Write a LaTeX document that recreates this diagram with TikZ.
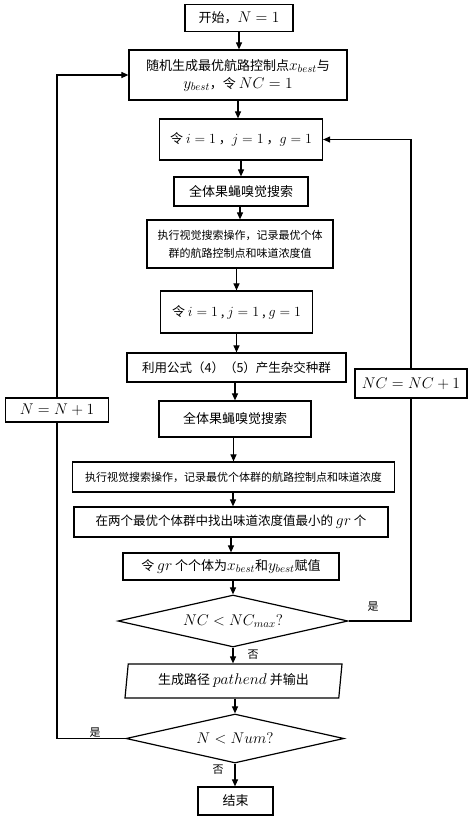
\RequirePackage{fix-cm}
\documentclass[tikz,border=0pt]{standalone}
\usepackage{fontspec}
\newfontfamily\cjk{Noto Sans CJK SC}
\newcommand\mth[1]{{\fontsize{15.5}{18}\selectfont$#1$}}
\newcommand\mths[1]{{\fontsize{14}{18}\selectfont$#1$}}
\usetikzlibrary{shapes.geometric,arrows.meta}
\begin{document}
\begin{tikzpicture}[x=1pt,y=-1pt,
  box/.style={draw, line width=1.2pt, inner sep=0pt, align=center, font=\cjk\fontsize{13}{18}\selectfont},
  dia/.style={draw, diamond, aspect=4.4, line width=1.2pt, inner sep=0pt, font=\cjk\fontsize{13}{18}\selectfont},
  para/.style={draw, trapezium, trapezium left angle=77, trapezium right angle=103, trapezium stretches body, line width=1.2pt, inner sep=0pt, font=\cjk\fontsize{13}{18}\selectfont},
  lbl/.style={font=\cjk\fontsize{11}{13}\selectfont, inner sep=0pt},
  conn/.style={line width=1.1pt},
  arr/.style={line width=1.1pt, -{Triangle[length=7pt,width=6pt]}}]
\useasboundingbox (0,0) rectangle (474,820);
\node[box, minimum width=108pt, minimum height=27pt] (b1) at (239,18) {开始，\mth{N=1}};
\node[box, minimum width=218pt, minimum height=50pt] (b2) at (238,75) {随机生成最优航路控制点\mth{x_{best}}与\\\mth{y_{best}}，令 \mth{NC=1}};
\node[box, minimum width=163pt, minimum height=41pt] (b3) at (241,139.5) {令 \mths{i=1} ，\mths{j=1} ，\mths{g=1}};
\node[box, minimum width=134pt, minimum height=29pt] (b4) at (241,191.5) {全体果蝇嗅觉搜索};
\node[box, minimum width=186pt, minimum height=48pt, font=\cjk\fontsize{11}{18}\selectfont] (b5) at (240,244) {执行视觉搜索操作，记录最优个体\\群的航路控制点和味道浓度值};
\node[box, minimum width=152pt, minimum height=42pt] (b6) at (236.5,312) {令 \mths{i=1} , \mths{j=1} , \mths{g=1}};
\node[box, minimum width=219pt, minimum height=29pt, font=\cjk\fontsize{12.5}{16}\selectfont] (b7) at (236.5,367.5) {利用公式（4）（5）产生杂交种群};
\node[box, minimum width=152pt, minimum height=36pt] (b8) at (235,419) {全体果蝇嗅觉搜索};
\node[box, minimum width=322pt, minimum height=30pt, font=\cjk\fontsize{11}{14}\selectfont] (b9) at (233.5,477) {执行视觉搜索操作，记录最优个体群的航路控制点和味道浓度};
\node[box, minimum width=314pt, minimum height=30pt, font=\cjk\fontsize{12.5}{16}\selectfont] (b10) at (231,522) {在两个最优个体群中找出味道浓度值最小的 \mth{gr} 个};
\node[box, minimum width=216pt, minimum height=27pt] (b11) at (231,566.5) {令 \mth{gr} 个个体为\mth{x_{best}}和\mth{y_{best}}赋值};
\node[dia, minimum width=230pt, minimum height=52pt] (d1) at (233,621) {\mth{NC<NC_{max}?}};
\node[para, minimum width=217pt, minimum height=34pt] (out) at (233.5,681) {生成路径 \mth{pathend} 并输出};
\node[dia, minimum width=218pt, minimum height=49pt] (d2) at (235,738.5) {\mth{N<Num?}};
\node[box, minimum width=75pt, minimum height=28pt] (end) at (235.5,801) {结束};
\node[box, minimum width=103pt, minimum height=24pt] (nn) at (57,410) {\mth{N=N+1}};
\node[box, minimum width=112pt, minimum height=29pt] (nc) at (411,383.5) {\mth{NC=NC+1}};
\node[lbl] (yes1) at (373,607) {是};
\node[lbl] (no1) at (253,655) {否};
\node[lbl] (yes2) at (95,733) {是};
\node[lbl] (no2) at (218,770) {否};
\draw[arr] (b1.south) -- (b1.south |- b2.north);
\draw[arr] (b2.south) -- (b2.south |- b3.north);
\draw[arr] (b3.south -| b4) -- (b4.north);
\draw[arr] (b4.south -| b5) -- (b5.north);
\draw[arr] (b5.south -| b6) -- (b6.north);
\draw[arr] (b6.south -| b7) -- (b7.north);
\draw[arr] (b7.south -| b8) -- (b8.north);
\draw[arr] (b8.south -| b9) -- (b9.north);
\draw[arr] (b9.south -| d1) -- (b10.north -| d1);
\draw[arr] (b10.south -| b11) -- (b11.north);
\draw[arr] (b11.south -| d1) -- (d1.north);
\draw[arr] (d1.south) -- (out.north -| d1);
\draw[arr] (out.south -| d2) -- (d2.north);
\draw[arr] (d2.south) -- (end.north -| d2);
\coordinate (cl1) at (nn |- d2);
\coordinate (cl2) at (nn |- b2);
\draw[conn] (d2.west) -- (cl1) -- (nn.south);
\draw[arr] (nn.north) -- (cl2) -- (b2.west);
\coordinate (cr1) at (nc |- d1);
\coordinate (cr2) at (nc |- b3);
\draw[conn] (d1.east) -- (cr1) -- (nc.south);
\draw[arr] (nc.north) -- (cr2) -- (b3.east);
\end{tikzpicture}
\end{document}
